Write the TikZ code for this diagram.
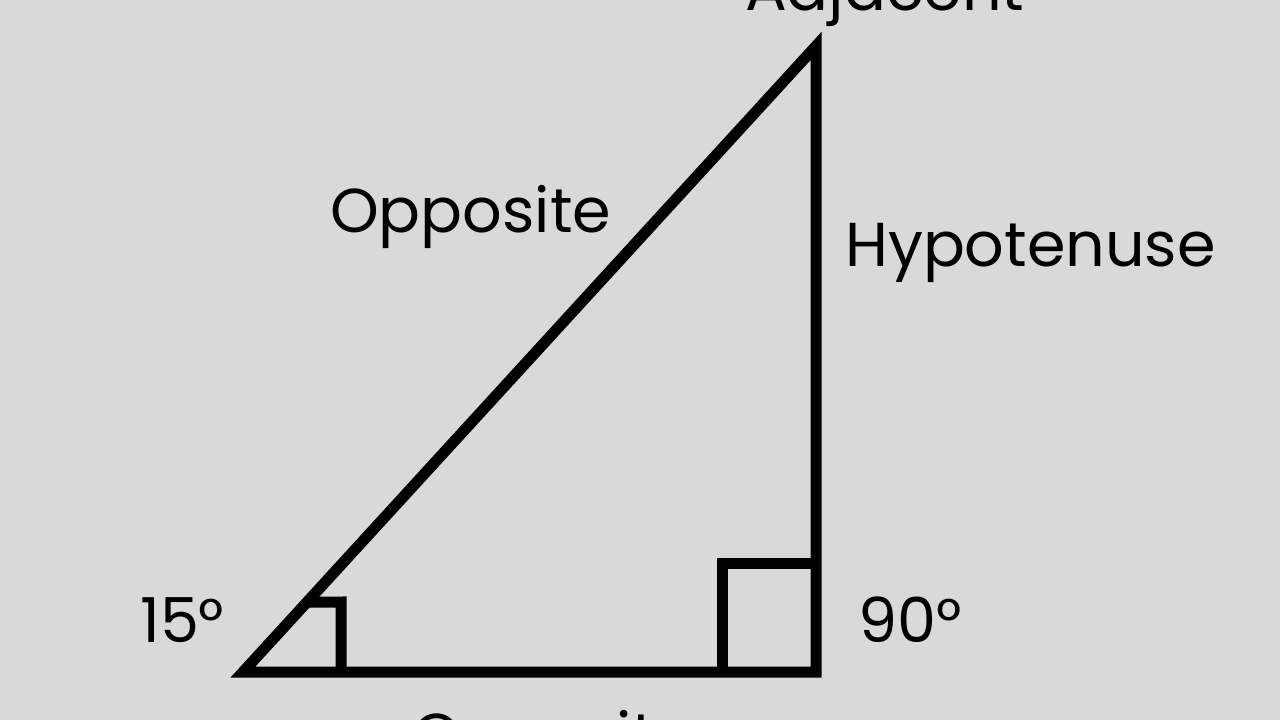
\documentclass[tikz,border=0pt]{standalone}
\usepackage{fontspec}
\setmainfont{Poppins}
\usetikzlibrary{calc}
\definecolor{paper}{RGB}{217,217,217}
\tikzset{
  leg/.style={line width=11pt,line join=miter,miter limit=20},
  lbl/.style={font=\fontsize{62}{70}\selectfont,inner sep=0pt,anchor=base west}
}
\begin{document}
\begin{tikzpicture}[x=1pt,y=-1pt]
    \fill[paper] (0,0) rectangle (1280,720);
    \useasboundingbox (0,0) rectangle (1280,720);
    \clip (0,0) rectangle (1280,720);
    \coordinate (A) at (243,672);
    \coordinate (B) at (816,672);
    \coordinate (C) at (816,46);
    \draw[leg] (A) -- (B) -- (C) -- cycle;
    \draw[leg] (722,672) |- (816,563);
    \coordinate (P) at ($(A)!0.1116!(C)$);
    \draw[leg,line join=miter] (P) -- (341,602) -- (341,672);
    \node[lbl] (adj) at (745,10) {Adjacent};
    \node[lbl] (opp) at (330,232) {Opposite};
    \node[lbl] (hyp) at (845,266) {Hypotenuse};
    \node[lbl] (a15) at (140,642) {15°};
    \node[lbl] (a90) at (858,642) {90°};
    \node[lbl] (opb) at (412,757) {Opposite};
\end{tikzpicture}
\end{document}
